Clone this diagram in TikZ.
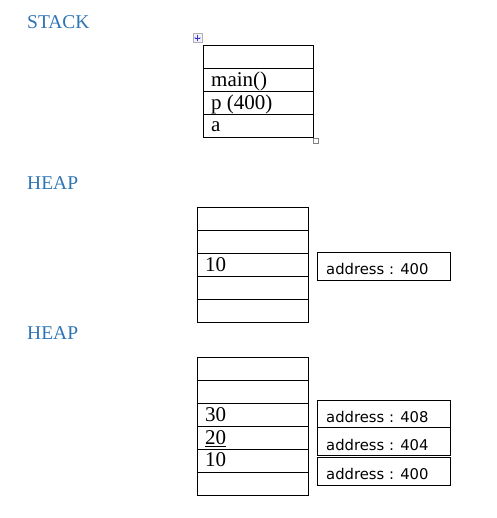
\documentclass[tikz,border=0pt]{standalone}
\usepackage{fontspec}
\usetikzlibrary{arrows.meta}
\setmainfont{Liberation Serif}
\newfontfamily\addrfont{DejaVu Sans}
\definecolor{headblue}{RGB}{46,116,181}
\begin{document}
\begin{tikzpicture}[x=1pt,y=-1pt,
  cell/.style={draw=black,line width=0.8pt,minimum width=111pt,minimum height=23pt,inner sep=0pt,outer sep=0pt,anchor=north west},
  scell/.style={cell,minimum width=110pt},
  abox/.style={draw=black,line width=0.8pt,minimum width=132.7pt,inner sep=0pt,outer sep=0pt,anchor=north west},
  heading/.style={font=\fontsize{19.5}{19.5}\selectfont,text=headblue,anchor=base west,inner sep=0pt},
  val/.style={font=\fontsize{21}{21}\selectfont,anchor=base west,inner sep=0pt},
  addr/.style={font=\addrfont\fontsize{14.8}{14.8}\selectfont,anchor=base west,inner sep=0pt},
  harrow/.style={blue!60!gray,line width=0.6pt,-{Latex[length=1.5pt]}}]
\useasboundingbox (0,0) rectangle (496,518);
% headings
\node[heading] (hstack) at (27,28.3) {STACK};
\node[heading] (hheap1) at (27,190) {HEAP};
\node[heading] (hheap2) at (27,339.5) {HEAP};
% stack
\node[scell] (s1) at (203,45) {};
\node[scell] (s2) at (203,68.3) {};
\node[scell] (s3) at (203,91.3) {};
\node[scell] (s4) at (203,114.3) {};
\node[val] (tmain) at (211,86.5) {main()};
\node[val] (tp) at (211,109.5) {p (400)};
\node[val] (ta) at (211,132) {a};
% table handles
\node[draw=gray!60,fill=blue!5,line width=0.5pt,minimum size=9pt,inner sep=0pt] (mh) at (197.5,38) {};
\draw[harrow] (mh.center) -- ++(3.5,0);
\draw[harrow] (mh.center) -- ++(-3.5,0);
\draw[harrow] (mh.center) -- ++(0,3.5);
\draw[harrow] (mh.center) -- ++(0,-3.5);
\node[draw=gray,fill=white,line width=0.5pt,minimum size=5pt,inner sep=0pt] (rh) at (315.5,140.5) {};
% heap 1
\node[cell] (a1) at (197.3,207.3) {};
\node[cell] (a2) at (197.3,230.3) {};
\node[cell] (a3) at (197.3,253.3) {};
\node[cell] (a4) at (197.3,276.3) {};
\node[cell] (a5) at (197.3,299.3) {};
\node[val] (t10a) at (205,271.7) {10};
\node[abox,minimum height=28pt] (ad1) at (317.3,252.3) {};
\node[addr] (tad1) at (326,274.3) {address : 400};
% heap 2
\node[cell] (b1) at (197.3,357.3) {};
\node[cell] (b2) at (197.3,380.3) {};
\node[cell] (b3) at (197.3,403.3) {};
\node[cell] (b4) at (197.3,426.3) {};
\node[cell] (b5) at (197.3,449.3) {};
\node[cell] (b6) at (197.3,472.3) {};
\node[val] (t30) at (205,421.7) {30};
\node[val] (t20) at (205,444.7) {20};
\draw[line width=0.8pt] ([yshift=-2pt]t20.base west) -- ([yshift=-2pt]t20.base east);
\node[val] (t10b) at (205,466.7) {10};
\node[abox,minimum height=27pt] (ad2) at (317.3,400.3) {};
\node[abox,minimum height=28pt] (ad3) at (317.3,427.3) {};
\node[abox,minimum height=28pt] (ad4) at (317.3,457) {};
\node[addr] (tad2) at (326,422.3) {address : 408};
\node[addr] (tad3) at (326,450) {address : 404};
\node[addr] (tad4) at (326,479.3) {address : 400};
\end{tikzpicture}
\end{document}
